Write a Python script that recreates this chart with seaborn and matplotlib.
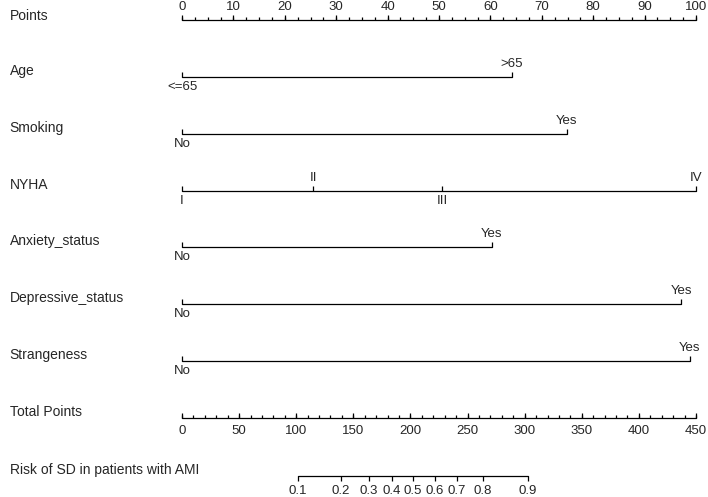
import numpy as np
import pandas as pd
import seaborn as sns
import matplotlib.pyplot as plt

sns.set_style("white")
plt.rcParams['font.family'] = ['Liberation Sans', 'DejaVu Sans']

# nomogram points per level (0-100 scale)
age_levels = ["<=65", ">65"]
age_points = [0, 64.2]
smoking_levels = ["No", "Yes"]
smoking_points = [0, 74.9]
nyha_levels = ["I", "II", "III", "IV"]
nyha_points = [0, 25.5, 50.6, 100]
anxiety_levels = ["No", "Yes"]
anxiety_points = [0, 60.3]
depress_levels = ["No", "Yes"]
depress_points = [0, 97.1]
strange_levels = ["No", "Yes"]
strange_points = [0, 98.8]

total_ticks = list(range(0, 451, 50))
risk_labels = [0.1, 0.2, 0.3, 0.4, 0.5, 0.6, 0.7, 0.8, 0.9]
risk_total_points = [101.6, 139.3, 163.8, 184.0, 202.3, 221.5, 240.8, 263.6, 303.0]

variables = [
    ("Age", age_levels, age_points),
    ("Smoking", smoking_levels, smoking_points),
    ("NYHA", nyha_levels, nyha_points),
    ("Anxiety_status", anxiety_levels, anxiety_points),
    ("Depressive_status", depress_levels, depress_points),
    ("Strangeness", strange_levels, strange_points),
]

fig = plt.figure(figsize=(7.08, 4.97), dpi=100)
ax = fig.add_axes([0, 0, 1, 1])
px = 5.14  # pixels per point
ax.set_xlim(-182 / px, 526 / px)
ax.set_ylim(497, 0)
ax.axis("off")
lw = 0.9
fs = 9.5
tot_scale = 100 / 450  # total points -> point axis units

# Points axis
y = 20
sns.lineplot(x=[0, 100], y=[y, y], ax=ax, color="black", lw=lw)
ax.vlines(np.arange(0, 100.1, 2.5), y - 3, y, color="black", lw=lw)
ax.vlines(np.arange(0, 101, 10), y - 5, y, color="black", lw=lw)
for v in range(0, 101, 10):
    ax.text(v, y - 7, str(v), ha="center", va="bottom", fontsize=fs)
ax.text(-33.5, y - 4, "Points", va="center", fontsize=fs + 0.5)

rows_y = [77, 134, 191, 247, 304, 361]
for (name, levels, pts), y in zip(variables, rows_y):
    sns.lineplot(x=[min(pts), max(pts)], y=[y, y], ax=ax, color="black", lw=lw)
    ax.text(-33.5, y - 6, name, va="center", fontsize=fs + 0.5)
    for i, (lab, p) in enumerate(zip(levels, pts)):
        ax.vlines(p, y - 5, y, color="black", lw=lw)
        if i % 2 == 0:
            ax.text(p, y + 4, lab, ha="center", va="top", fontsize=fs)
        else:
            ax.text(p, y - 7, lab, ha="center", va="bottom", fontsize=fs)

# Total points
y = 418
sns.lineplot(x=[0, 100], y=[y, y], ax=ax, color="black", lw=lw)
ax.vlines(np.arange(0, 451, 10) * tot_scale, y - 3, y, color="black", lw=lw)
ax.vlines(np.array(total_ticks) * tot_scale, y - 5, y, color="black", lw=lw)
for v in total_ticks:
    ax.text(v * tot_scale, y + 7, str(v), ha="center", va="top", fontsize=fs)
ax.text(-33.5, y - 6, "Total Points", va="center", fontsize=fs + 0.5)

# Risk
y = 476
rx = np.array(risk_total_points) * tot_scale
sns.lineplot(x=[rx[0], rx[-1]], y=[y, y], ax=ax, color="black", lw=lw)
ax.vlines(rx, y, y + 5, color="black", lw=lw)
for v, xx in zip(risk_labels, rx):
    ax.text(xx, y + 9, f"{v:g}", ha="center", va="top", fontsize=fs)
ax.text(-33.5, y - 6, "Risk of SD in patients with AMI", va="center", fontsize=fs + 0.5)

plt.savefig("out.png", dpi=100)
plt.close()
